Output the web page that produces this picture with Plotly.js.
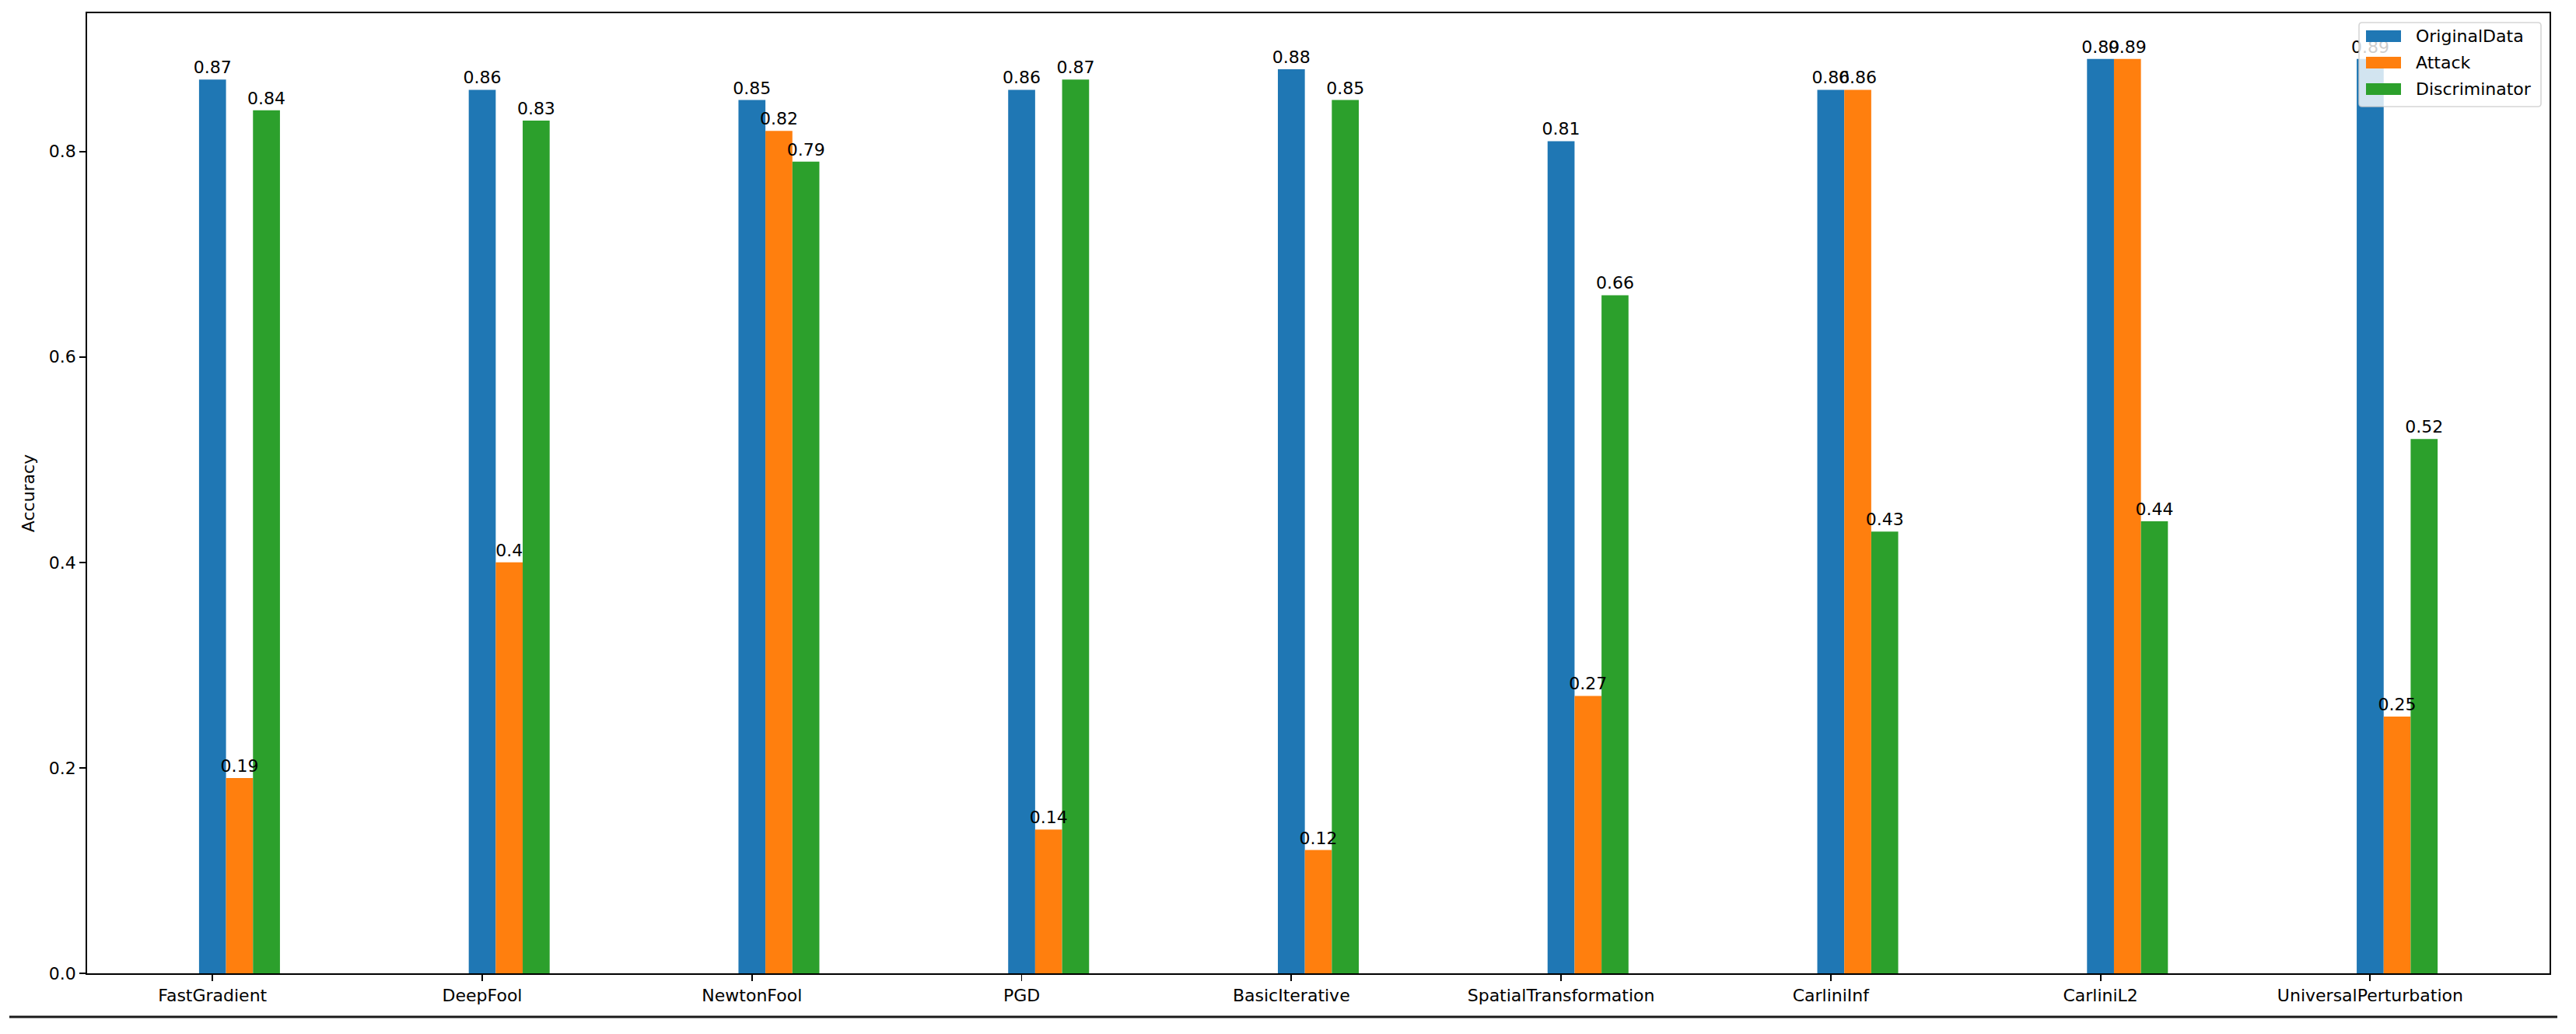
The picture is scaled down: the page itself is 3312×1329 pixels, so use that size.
<!DOCTYPE html>
<html>
<head>
<meta charset="utf-8">
<script src="https://cdn.plot.ly/plotly-3.0.1.min.js"></script>
<style>html,body{margin:0;padding:0;background:#fff;}#chart{width:3312px;height:1329px;}</style>
</head>
<body>
<div id="chart"></div>
<script>
const categories = ["FastGradient","DeepFool","NewtonFool","PGD","BasicIterative","SpatialTransformation","CarliniInf","CarliniL2","UniversalPerturbation"];
const seriesNames = ["OriginalData","Attack","Discriminator"];
const originalData = [0.87,0.86,0.85,0.86,0.88,0.81,0.86,0.89,0.89];
const attack = [0.19,0.4,0.82,0.14,0.12,0.27,0.86,0.89,0.25];
const discriminator = [0.84,0.83,0.79,0.87,0.85,0.66,0.43,0.44,0.52];
const yTickVals = [0.0,0.2,0.4,0.6,0.8];

const W = 3312, H = 1329;
const M = {l:112, r:34, t:17, b:78};
const PW = W - M.l - M.r, PH = H - M.t - M.b;
const px = x => (x - M.l) / PW;
const py = y => (H - M.b - y) / PH;

const colors = ["#1f77b4","#ff7f0e","#2ca02c"];
const barW = 0.1;
const FONT = "DejaVu Sans, Liberation Sans, sans-serif";
const FS = 22;

const allSeries = [originalData, attack, discriminator];
const idx = categories.map((_, i) => i);

// real bars
const barTraces = allSeries.map((vals, s) => ({
  type: "bar",
  name: seriesNames[s],
  x: idx.map(i => i + s * barW),
  y: vals,
  width: barW,
  marker: {color: colors[s], line: {width: 0}},
  showlegend: false,
  hoverinfo: "skip"
}));
// transparent copies carrying the value labels, drawn above all bars
const labelTraces = allSeries.map((vals, s) => ({
  type: "bar",
  name: seriesNames[s] + " labels",
  x: idx.map(i => i + s * barW),
  y: vals,
  width: barW,
  marker: {color: "rgba(0,0,0,0)", line: {width: 0}},
  text: vals.map(v => String(v)),
  textposition: "outside",
  constraintext: "none",
  cliponaxis: false,
  textfont: {family: FONT, size: FS, color: "#000"},
  showlegend: false,
  hoverinfo: "skip"
}));

// custom matplotlib-style legend
const box = {x0: 3033, x1: 3267, y0: 29, y1: 137, r: 4};
const rx = box.r / PW, ry = box.r / PH;
const bx0 = px(box.x0), bx1 = px(box.x1), byT = py(box.y0), byB = py(box.y1);
const boxPath = `M${bx0+rx},${byT} L${bx1-rx},${byT} Q${bx1},${byT} ${bx1},${byT-ry} L${bx1},${byB+ry} Q${bx1},${byB} ${bx1-rx},${byB} L${bx0+rx},${byB} Q${bx0},${byB} ${bx0},${byB+ry} L${bx0},${byT-ry} Q${bx0},${byT} ${bx0+rx},${byT} Z`;

const shapes = [
  {type: "path", xref: "paper", yref: "paper", path: boxPath,
   fillcolor: "rgba(255,255,255,0.8)", line: {color: "rgba(204,204,204,0.8)", width: 1.6}, layer: "above"},
  {type: "line", xref: "paper", yref: "paper", x0: px(12), x1: px(3288), y0: py(1307), y1: py(1307),
   line: {color: "#1a1a1a", width: 3}, layer: "above"}
];
const annotations = [];
const rowTop = [39, 73, 107];
seriesNames.forEach((n, s) => {
  shapes.push({type: "rect", xref: "paper", yref: "paper",
    x0: px(3042), x1: px(3087), y0: py(rowTop[s] + 15), y1: py(rowTop[s]),
    fillcolor: colors[s], line: {width: 0}, layer: "above"});
  annotations.push({xref: "paper", yref: "paper", x: px(3104), y: py(rowTop[s] + 7.5),
    xanchor: "left", yanchor: "middle", showarrow: false, text: n,
    font: {family: FONT, size: FS, color: "#000"}});
});

const layout = {
  width: W, height: H,
  margin: M,
  paper_bgcolor: "#fff", plot_bgcolor: "#fff",
  font: {family: FONT, size: FS, color: "#000"},
  barmode: "overlay",
  showlegend: false,
  xaxis: {
    range: [-0.465, 8.665],
    tickvals: idx, ticktext: categories,
    ticks: "outside", ticklen: 8, tickwidth: 1.8, tickcolor: "#000",
    showline: true, linecolor: "#000", linewidth: 1.8, mirror: true,
    showgrid: false, zeroline: false,
    tickfont: {family: FONT, size: FS, color: "#000"}
  },
  yaxis: {
    range: [0, 0.9345],
    tickvals: yTickVals, ticktext: yTickVals.map(v => v.toFixed(1)),
    ticks: "outside", ticklen: 8, tickwidth: 1.8, tickcolor: "#000",
    showline: true, linecolor: "#000", linewidth: 1.8, mirror: true,
    showgrid: false, zeroline: false,
    tickfont: {family: FONT, size: FS, color: "#000"},
    title: {text: "Accuracy", font: {family: FONT, size: FS, color: "#000"}, standoff: 12}
  },
  shapes: shapes,
  annotations: annotations
};

Plotly.newPlot("chart", barTraces.concat(labelTraces), layout, {displayModeBar: false, staticPlot: true});
</script>
</body>
</html>
